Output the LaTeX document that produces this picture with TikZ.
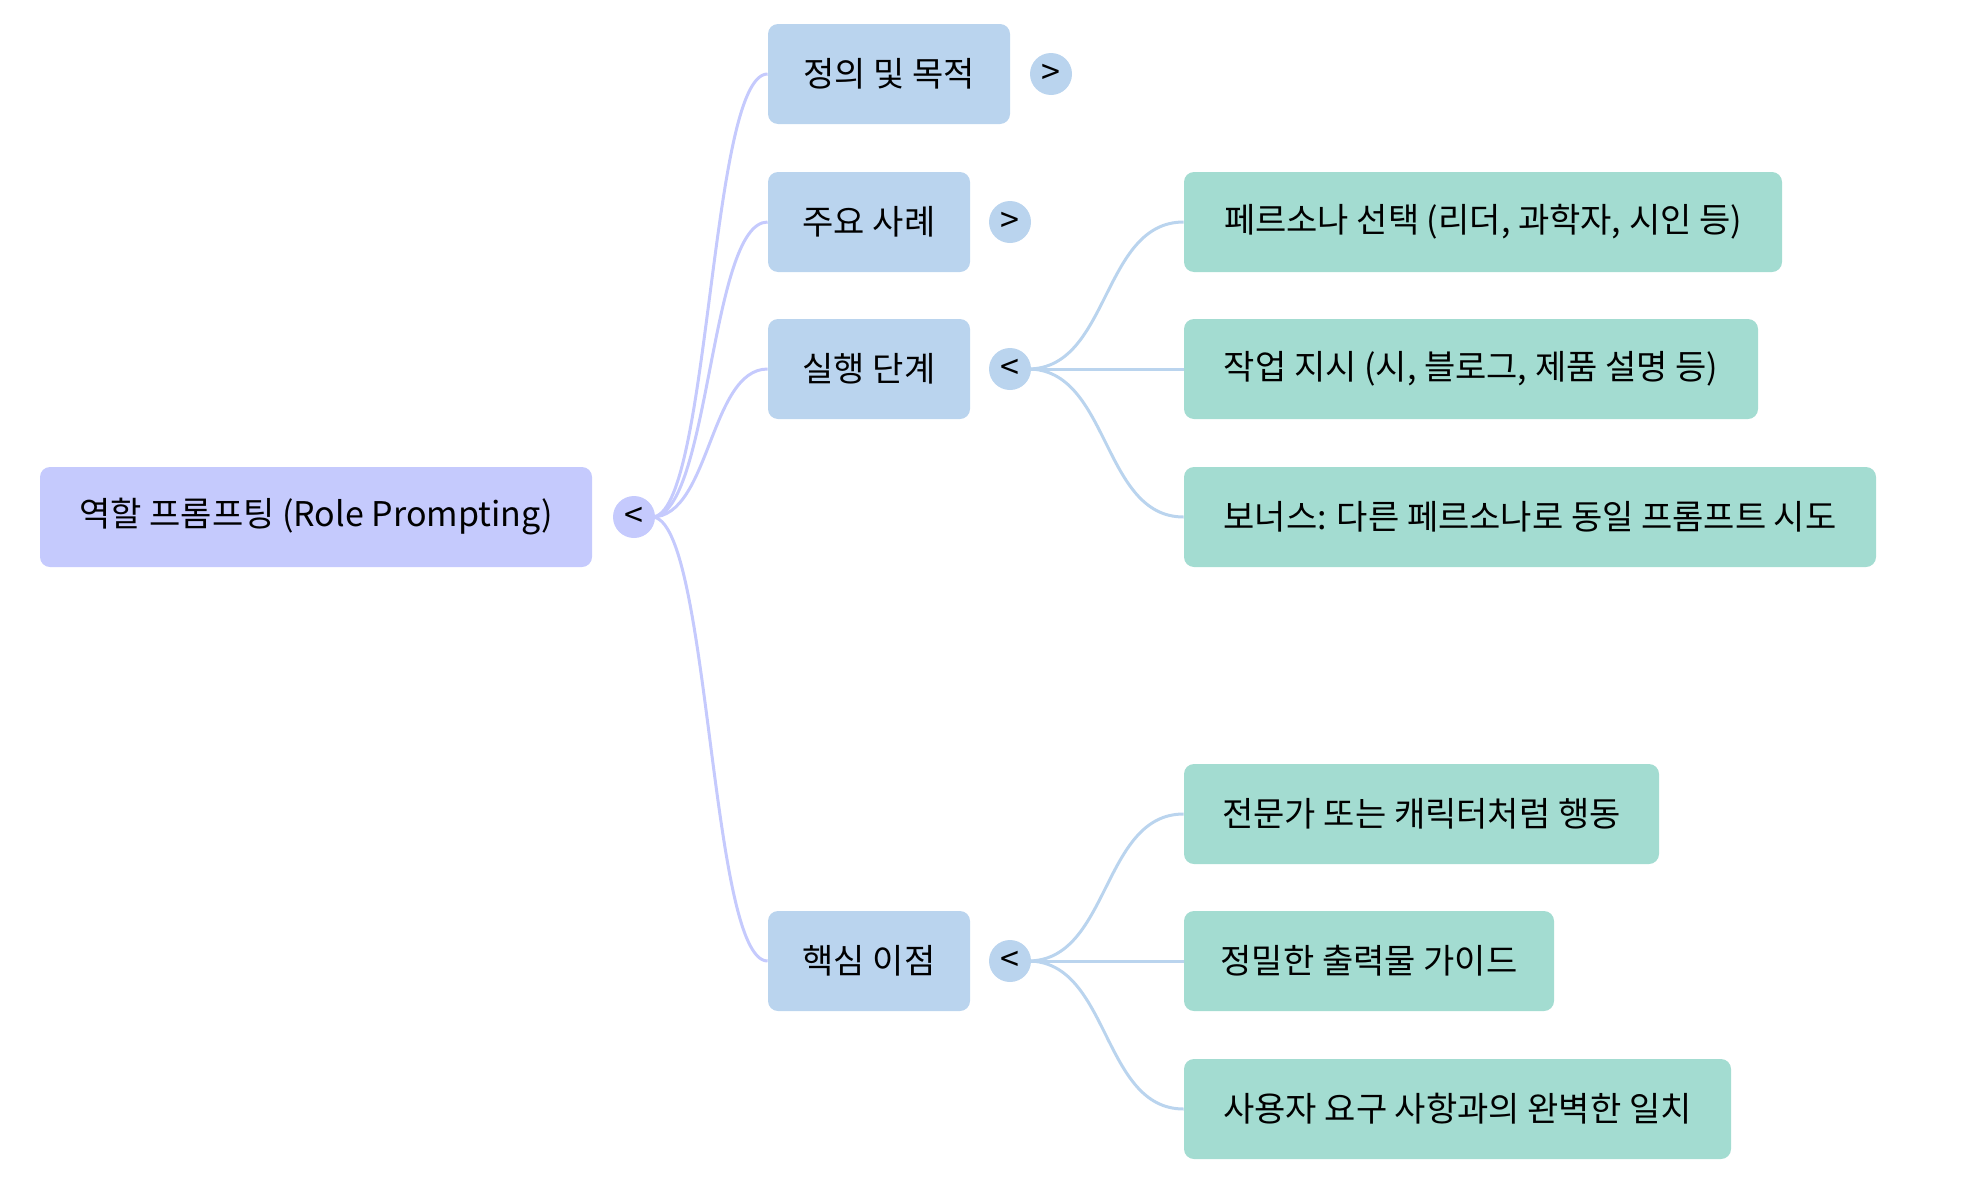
\documentclass[tikz,border=0pt]{standalone}
\usepackage{fontspec}
\usetikzlibrary{calc}
\setmainfont{Noto Sans CJK KR}
\definecolor{rootc}{HTML}{C5CAFD}
\definecolor{lonec}{HTML}{BAD4EE}
\definecolor{ltwoc}{HTML}{A3DCD1}
\begin{document}
\begin{tikzpicture}[x=0.5pt,y=-0.5pt,
  box/.style={rounded corners=5pt, minimum height=50pt, inner sep=0pt, font=\fontsize{17}{20}\selectfont, text=black},
  rootbox/.style={box, fill=rootc},
  onebox/.style={box, fill=lonec},
  twobox/.style={box, fill=ltwoc},
  tog/.style={circle, minimum size=21pt, inner sep=0pt, font=\fontsize{17}{20}\selectfont},
  rootedge/.style={draw=rootc, line width=1.5pt},
  oneedge/.style={draw=lonec, line width=1.5pt}]
\useasboundingbox (0,0) rectangle (1980,1183);
% nodes
\node[rootbox, minimum width=276pt] (root) at (316,517) {역할 프롬프팅 (Role Prompting)};
\node[onebox, minimum width=121pt] (def) at (889,74) {정의 및 목적};
\node[onebox, minimum width=101pt] (ex) at (869,222) {주요 사례};
\node[onebox, minimum width=101pt] (steps) at (869,369) {실행 단계};
\node[onebox, minimum width=101pt] (ben) at (869,961) {핵심 이점};
\node[twobox, minimum width=299pt] (p1) at (1483,222) {페르소나 선택 (리더, 과학자, 시인 등)};
\node[twobox, minimum width=287pt] (p2) at (1471,369) {작업 지시 (시, 블로그, 제품 설명 등)};
\node[twobox, minimum width=346pt] (p3) at (1530,517) {보너스: 다른 페르소나로 동일 프롬프트 시도};
\node[twobox, minimum width=237.5pt] (b1) at (1421.5,814) {전문가 또는 캐릭터처럼 행동};
\node[twobox, minimum width=185pt] (b2) at (1369,961) {정밀한 출력물 가이드};
\node[twobox, minimum width=273.5pt] (b3) at (1457.5,1109) {사용자 요구 사항과의 완벽한 일치};
% edges
\coordinate (rs) at (652,517);
\coordinate (ss) at (1028,369);
\coordinate (bs) at (1028,961);
\foreach \t in {def,ex,steps,ben}
  \draw[rootedge] (rs) .. controls (710,517) and ($(\t.west)+(-58,0)$) .. (\t.west);
\foreach \t in {p1,p2,p3}
  \draw[oneedge] (ss) .. controls (1110,369) and ($(\t.west)+(-82,0)$) .. (\t.west);
\foreach \t in {b1,b2,b3}
  \draw[oneedge] (bs) .. controls (1110,961) and ($(\t.west)+(-82,0)$) .. (\t.west);
% toggles
\node[tog, fill=rootc] (troot) at (634,517) {<};
\node[tog, fill=lonec] (tdef) at (1051,74) {>};
\node[tog, fill=lonec] (tex) at (1010,222) {>};
\node[tog, fill=lonec] (tsteps) at (1010,369) {<};
\node[tog, fill=lonec] (tben) at (1010,961) {<};
\end{tikzpicture}
\end{document}
